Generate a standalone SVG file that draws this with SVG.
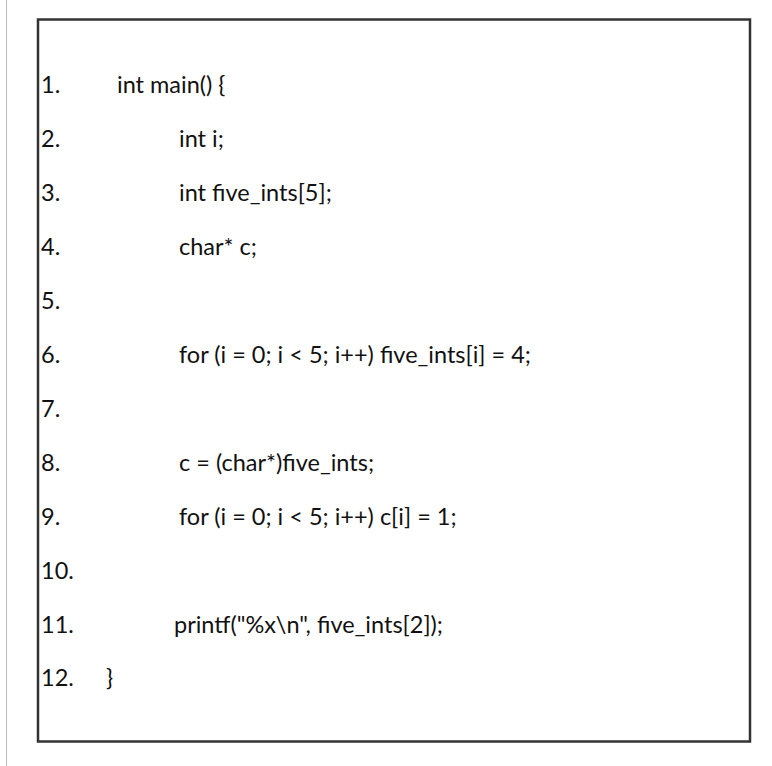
<svg xmlns="http://www.w3.org/2000/svg" width="772" height="766" viewBox="0 0 772 766">
<style>text{font-family:Lato,"Liberation Sans",sans-serif;font-size:23.5px;fill:#111}</style>
<rect width="772" height="766" fill="#fff"/>
<line x1="6.5" y1="0" x2="6.5" y2="766" stroke="#bbb" stroke-width="1"/>
<rect x="38" y="19.5" width="712" height="722" fill="none" stroke="#333" stroke-width="2.5"/>
<g id="code">
<text x="41" y="93">1.</text><text x="117" y="93">int main() {</text>
<text x="41" y="147">2.</text><text x="179" y="147">int i;</text>
<text x="41" y="201">3.</text><text x="179" y="201">int five_ints[5];</text>
<text x="41" y="255">4.</text><text x="179" y="255">char* c;</text>
<text x="41" y="309">5.</text>
<text x="41" y="363">6.</text><text x="179" y="363">for (i = 0; i &lt; 5; i++) five_ints[i] = 4;</text>
<text x="41" y="417">7.</text>
<text x="41" y="471">8.</text><text x="179" y="471">c = (char*)five_ints;</text>
<text x="41" y="525">9.</text><text x="179" y="525">for (i = 0; i &lt; 5; i++) c[i] = 1;</text>
<text x="41" y="579">10.</text>
<text x="41" y="633">11.</text><text x="174" y="633">printf("%x\n", five_ints[2]);</text>
<text x="41" y="686">12.</text><text x="106" y="686">}</text>
</g>
</svg>
